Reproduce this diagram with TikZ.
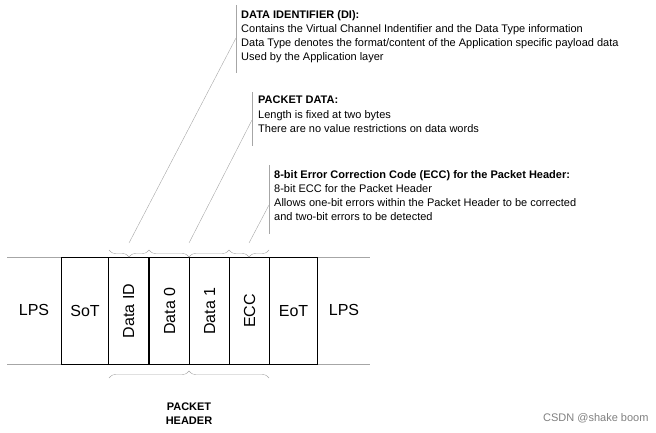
\documentclass[tikz,border=0pt]{standalone}
\usepackage{fontspec}
\setmainfont{Liberation Sans}
\usetikzlibrary{decorations.pathreplacing,positioning}
\tikzset{
  field/.style={draw, very thick, minimum height=107pt, inner sep=0pt, anchor=north west, font=\fontsize{16}{18}\selectfont},
  rfield/.style={field, minimum width=40pt},
  lane/.style={draw=gray!70, thick},
  lead/.style={draw=gray!70, thin},
  brc/.style={draw=gray!70, thin, decorate, decoration={brace, amplitude=7pt}},
  note/.style={anchor=north west, align=left, inner sep=0pt, font=\fontsize{11}{14.2}\selectfont},
}
\begin{document}
\begin{tikzpicture}[x=1pt, y=-1pt]
  \useasboundingbox (0,0) rectangle (656,433);
  % lanes
  \coordinate (la) at (7,257);
  \coordinate (lb) at (370,257);
  \coordinate (lc) at (7,364);
  \coordinate (ld) at (370,364);
  \draw[lane] (la) -- (lb);
  \draw[lane] (lc) -- (ld);
  % fields
  \node[field, minimum width=47pt] (sot) at (61,257) {SoT};
  \node[rfield] (did) at (108,257) {\rotatebox{90}{Data ID}};
  \node[rfield] (d0) at (149,257) {\rotatebox{90}{Data 0}};
  \node[rfield] (d1) at (189,257) {\rotatebox{90}{Data 1}};
  \node[rfield] (ecc) at (229,257) {\rotatebox{90}{ECC}};
  \node[field, minimum width=48pt] (eot) at (269,257) {EoT};
  \node[font=\fontsize{16}{18}\selectfont] (lps1) at (34,310) {LPS};
  \node[font=\fontsize{16}{18}\selectfont] (lps2) at (344,310) {LPS};
  % braces
  \coordinate (b1) at (109,250);
  \coordinate (b2) at (149,250);
  \coordinate (b3) at (229,250);
  \coordinate (b4) at (269,250);
  \draw[brc] (b2) -- (b1) coordinate[midway, yshift=7pt] (t1);
  \draw[brc] (b3) -- (b2) coordinate[midway, yshift=7pt] (t2);
  \draw[brc] (b4) -- (b3) coordinate[midway, yshift=7pt] (t3);
  \coordinate (hb1) at (269,378);
  \coordinate (hb2) at (109,378);
  \draw[brc] (hb2) -- (hb1);
  \node[align=center, font=\bfseries\fontsize{11}{14}\selectfont] (hdr) at (189,414) {PACKET\\HEADER};
  % notes
  \node[note] (di) at (241,10) {\textbf{DATA IDENTIFIER (DI):}\\
    Contains the Virtual Channel Indentifier and the Data Type information\\
    Data Type denotes the format/content of the Application specific payload data\\
    Used by the Application layer};
  \node[note] (pd) at (258,96) {\textbf{PACKET DATA:}\\
    Length is fixed at two bytes\\
    There are no value restrictions on data words};
  \node[note] (ec) at (274,170) {\textbf{8-bit Error Correction Code (ECC) for the Packet Header:}\\
    8-bit ECC for the Packet Header\\
    Allows one-bit errors within the Packet Header to be corrected\\
    and two-bit errors to be detected};
  % leaders
  \coordinate (v1a) at (236,5);
  \coordinate (v1b) at (236,73);
  \coordinate (v2a) at (252,92);
  \coordinate (v2b) at (252,146);
  \coordinate (v3a) at (269,165);
  \coordinate (v3b) at (269,234);
  \draw[lead] (v1a) -- (v1b);
  \draw[lead] (v2a) -- (v2b);
  \draw[lead] (v3a) -- (v3b);
  \draw[lead] (t1) -- (236,38);
  \draw[lead] (t2) -- (252,120);
  \draw[lead] (t3) -- (269,205);
  \node[gray, anchor=east, font=\fontsize{11}{13}\selectfont] (wm) at (652,418) {CSDN @shake boom};
\end{tikzpicture}
\end{document}
